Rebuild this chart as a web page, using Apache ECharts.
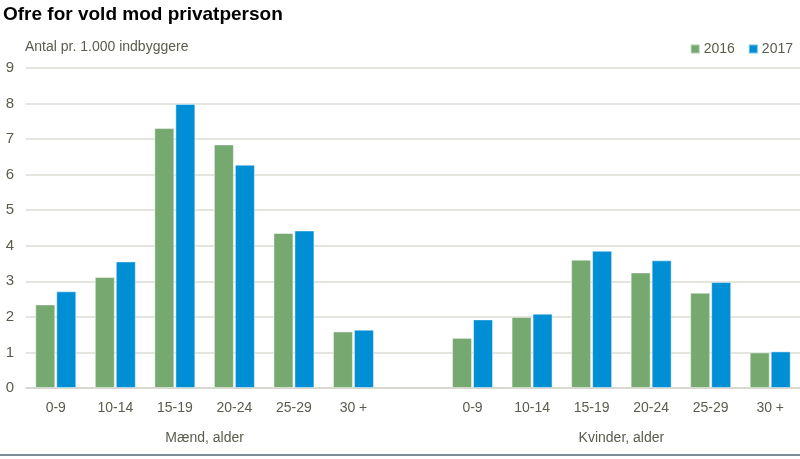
<!DOCTYPE html>
<html>
<head>
<meta charset="utf-8">
<script src="https://cdn.jsdelivr.net/npm/echarts@6/dist/echarts.min.js"></script>
<style>
html,body{margin:0;padding:0;background:#fff;}
#chart{width:800px;height:459px;}
</style>
</head>
<body>
<div id="chart"></div>
<script>
var categories = ['0-9','10-14','15-19','20-24','25-29','30 +','','0-9','10-14','15-19','20-24','25-29','30 +'];
var values2016 = [2.35, 3.12, 7.31, 6.85, 4.36, 1.59, null, 1.41, 2.00, 3.61, 3.25, 2.68, 1.00];
var values2017 = [2.72, 3.56, 7.99, 6.28, 4.43, 1.64, null, 1.93, 2.09, 3.86, 3.59, 2.98, 1.03];
var groupLabels = ['Mænd, alder', 'Kvinder, alder'];
var groupPositions = [2.5, 9.5];
var yTicks = [0,1,2,3,4,5,6,7,8,9];

var textColor = '#5b5b4e';
var font = 'Liberation Sans, Arial, sans-serif';

var chart = echarts.init(document.getElementById('chart'), null, {renderer:'canvas'});
chart.setOption({
  animation: false,
  backgroundColor: '#ffffff',
  title: [{
    text: 'Ofre for vold mod privatperson',
    left: 3, top: 5, padding: 0,
    textStyle: {fontFamily: font, fontSize: 19, fontWeight: 'bold', color: '#000'}
  }, {
    text: 'Antal pr. 1.000 indbyggere',
    left: 25, top: 40, padding: 0,
    textStyle: {fontFamily: font, fontSize: 14, fontWeight: 'normal', color: textColor}
  }],
  legend: {
    right: 2, top: 37,
    itemWidth: 9, itemHeight: 9, itemGap: 13,
    icon: 'rect',
    textStyle: {fontFamily: font, fontSize: 14, color: textColor, padding: [0,0,0,-1]},
    data: ['2016','2017']
  },
  grid: {left: 26, right: 0, top: 68, bottom: 71},
  xAxis: [{
    type: 'category',
    data: categories,
    axisLine: {show: true, lineStyle: {color: '#d4d4cc', width: 1.5}},
    axisTick: {show: false},
    axisLabel: {fontFamily: font, fontSize: 14, color: textColor, margin: 13, interval: 0}
  }, {
    type: 'value',
    position: 'bottom',
    min: -0.5, max: 12.5,
    axisLine: {show: false},
    axisTick: {show: false},
    splitLine: {show: false},
    axisLabel: {
      fontFamily: font, fontSize: 14, color: textColor, margin: 43,
      customValues: groupPositions,
      formatter: function (v) {
        var i = groupPositions.indexOf(v);
        return i >= 0 ? groupLabels[i] : '';
      }
    }
  }],
  yAxis: {
    type: 'value',
    min: 0, max: 9, interval: 1,
    axisLine: {show: false},
    axisTick: {show: false},
    axisLabel: {fontFamily: font, fontSize: 15, color: textColor, margin: 12, customValues: yTicks},
    splitLine: {lineStyle: {color: '#dcdcd4', width: 1.5}}
  },
  series: [{
    name: '2016', type: 'bar', data: values2016,
    barWidth: 20, barGap: '5%',
    itemStyle: {color: '#76a96f', borderColor: 'rgba(255,255,255,0.45)', borderWidth: 1}
  }, {
    name: '2017', type: 'bar', data: values2017,
    barWidth: 20, barGap: '5%',
    itemStyle: {color: '#008fd5', borderColor: 'rgba(255,255,255,0.45)', borderWidth: 1}
  }],
  graphic: [{
    type: 'rect', left: 0, top: 454, shape: {width: 800, height: 2},
    style: {fill: '#7d8d98'}
  }]
});
</script>
</body>
</html>
